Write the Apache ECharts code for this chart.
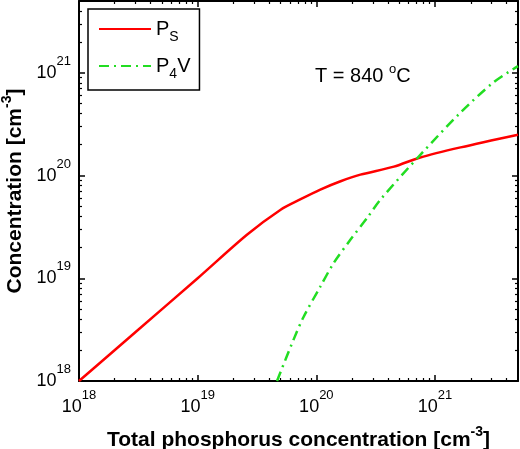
<!DOCTYPE html>
<html>
<head>
<meta charset="utf-8">
<script src="https://cdn.jsdelivr.net/npm/echarts@6/dist/echarts.min.js"></script>
<style>
  html, body { margin: 0; padding: 0; background: #fff; }
  #chart { width: 520px; height: 449px; }
</style>
</head>
<body>
<div id="chart"></div>
<script>
// total phosphorus concentration (x) and resulting concentrations (y), cm^-3
const psTotal = [1e18, 3e18, 1e19, 2.6e19, 5e19, 7.3e19, 1.08e20, 1.6e20, 2.35e20, 4.5e20, 7.5e20, 1.64e21, 5e21];
const psValues = [1e18, 3e18, 1e19, 2.65e19, 4.65e19, 5.85e19, 7.3e19, 8.8e19, 1.02e20, 1.22e20, 1.5e20, 1.88e20, 2.5e20];
const p4vTotal = [4.66e19, 6.4e19, 7.8e19, 1.08e20, 1.4e20, 1.94e20, 2.68e20, 3.47e20, 7.55e20, 1.64e21, 3.12e21, 5e21];
const p4vValues = [1e18, 2.5e18, 4.2e18, 8.3e18, 1.41e19, 2.38e19, 3.87e19, 5.84e19, 1.6e20, 4.1e20, 8.1e20, 1.16e21];
const axisMin = 1e18;
const axisMax = 5e21;

const FONT = "'Liberation Sans', Arial, sans-serif";

function zip(xs, ys) {
  return xs.map((x, i) => [x, ys[i]]);
}

// only decades get a label, written as 10 with a raised exponent
function decadeLabel(v) {
  const lg = Math.log10(v);
  const e = Math.round(lg);
  if (Math.abs(lg - e) > 1e-6) return "";
  return "{b|10}{s|" + e + "}";
}

const labelRich = {
  b: { fontSize: 18, lineHeight: 36, fontFamily: FONT, color: "#000" },
  s: { fontSize: 13, lineHeight: 13, verticalAlign: "top", fontFamily: FONT, color: "#000" },
};
const nameRich = {
  b: { fontSize: 21, lineHeight: 30, fontWeight: "bold", fontFamily: FONT, color: "#000" },
  s: { fontSize: 14, lineHeight: 14, verticalAlign: "top", fontWeight: "bold", fontFamily: FONT, color: "#000" },
};

function logAxis(position, withLabels) {
  return {
    type: "log",
    logBase: 10,
    position: position,
    min: axisMin,
    max: axisMax,
    axisLine: { show: true, onZero: false, lineStyle: { color: "#000", width: 2 } },
    axisTick: { show: true, inside: true, length: 6, lineStyle: { color: "#000", width: 1.5 } },
    minorTick: { show: true, splitNumber: 9, length: 3, lineStyle: { color: "#000", width: 1.2 } },
    axisLabel: {
      show: withLabels,
      formatter: decadeLabel,
      rich: labelRich,
      margin: 8,
    },
    splitLine: { show: false },
  };
}

const chart = echarts.init(document.getElementById("chart"));

const xMain = logAxis("bottom", true);
xMain.name = "{b|Total phosphorus concentration [cm}{s|-3}{b|]}";
xMain.nameLocation = "middle";
xMain.nameGap = 44;
xMain.nameTextStyle = { rich: nameRich };

const yMain = logAxis("left", true);
yMain.name = "{b|Concentration [cm}{s|-3}{b|]}";
yMain.nameLocation = "middle";
yMain.nameGap = 47;
yMain.nameTextStyle = { rich: nameRich };

const option = {
  animation: false,
  backgroundColor: "#fff",
  grid: { left: 79, top: 1, right: 2, bottom: 68, containLabel: false, outerBoundsMode: "none" },
  xAxis: [xMain, logAxis("top", false)],
  yAxis: [yMain, logAxis("right", false)],
  legend: {
    left: 88,
    top: 9,
    orient: "vertical",
    borderColor: "#000",
    borderWidth: 1.5,
    backgroundColor: "#fff",
    padding: [10, 9, 9, 10],
    itemWidth: 52,
    itemHeight: 14,
    itemGap: 12,
    itemStyle: { opacity: 0 },
    formatter: function (name) {
      return name === "P_S" ? "{b|P}{s|S}" : "{b|P}{s|4}{b|V}";
    },
    textStyle: {
      rich: {
        b: { fontSize: 20, lineHeight: 30, fontFamily: FONT, color: "#000" },
        s: { fontSize: 14, lineHeight: 14, verticalAlign: "bottom", fontFamily: FONT, color: "#000" },
      },
    },
  },
  graphic: [
    {
      type: "text",
      left: 315,
      top: 63,
      style: {
        text: "{a|T = 840 }{s|o}{a|C}",
        rich: {
          a: { fontSize: 20, lineHeight: 26, fontFamily: FONT, fill: "#000" },
          s: { fontSize: 13, lineHeight: 13, verticalAlign: "top", fontFamily: FONT, fill: "#000" },
        },
      },
    },
  ],
  series: [
    {
      name: "P_S",
      type: "line",
      xAxisIndex: 0,
      yAxisIndex: 0,
      symbol: "none",
      smooth: 0.3,
      data: zip(psTotal, psValues),
      lineStyle: { color: "#ff0000", width: 2.5 },
      itemStyle: { color: "#ff0000" },
    },
    {
      name: "P_4V",
      type: "line",
      xAxisIndex: 0,
      yAxisIndex: 0,
      symbol: "none",
      smooth: 0.3,
      data: zip(p4vTotal, p4vValues),
      lineStyle: { color: "#22dd22", width: 2.5, type: [10, 5, 2, 5] },
      itemStyle: { color: "#22dd22" },
    },
  ],
};

chart.setOption(option);
</script>
</body>
</html>
